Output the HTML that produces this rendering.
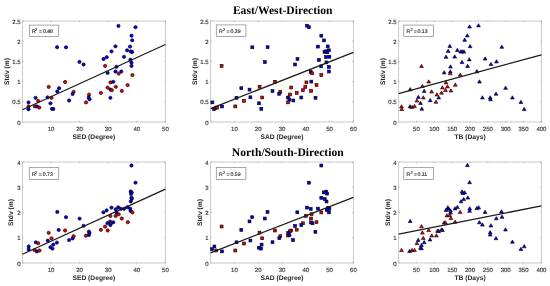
<!DOCTYPE html>
<html><head><meta charset="utf-8"><title>Figure</title>
<style>
html,body{margin:0;padding:0;background:#fff;}
body{width:550px;height:286px;overflow:hidden;}
svg{display:block;}
text{text-rendering:geometricPrecision;}
.tk{font-family:"Liberation Sans",Arial,sans-serif;font-size:6px;fill:#404040;stroke:#404040;stroke-width:0.18px;}
.lb{font-family:"Liberation Sans",Arial,sans-serif;font-size:6.7px;font-weight:bold;fill:#262626;}
.r2{font-family:"Liberation Sans",Arial,sans-serif;font-size:5.2px;fill:#303030;stroke:#303030;stroke-width:0.15px;}
.sup{font-size:4px;}
.tt{font-family:"Liberation Serif","Times New Roman",serif;font-size:11.6px;font-weight:bold;fill:#000;}
</style></head>
<body>
<svg width="550" height="286" viewBox="0 0 550 286">
<rect width="550" height="286" fill="#fff"/>
<text class="tt" x="282.7" y="14.0" text-anchor="middle">East/West-Direction</text>
<text class="tt" x="287.7" y="156.1" text-anchor="middle">North/South-Direction</text>
<rect x="22.40" y="21.00" width="143.00" height="101.00" fill="none" stroke="#c4c4c4" stroke-width="0.9"/>
<path d="M51.00 122.00v-1.2M51.00 21.00v1.2M79.60 122.00v-1.2M79.60 21.00v1.2M108.20 122.00v-1.2M108.20 21.00v1.2M136.80 122.00v-1.2M136.80 21.00v1.2M165.40 122.00v-1.2M165.40 21.00v1.2M22.40 122.00h1.2M165.40 122.00h-1.2M22.40 101.80h1.2M165.40 101.80h-1.2M22.40 81.60h1.2M165.40 81.60h-1.2M22.40 61.40h1.2M165.40 61.40h-1.2M22.40 41.20h1.2M165.40 41.20h-1.2M22.40 21.00h1.2M165.40 21.00h-1.2" stroke="#9a9a9a" stroke-width="0.6" fill="none"/>
<text class="tk" x="51.00" y="130.60" text-anchor="middle">10</text>
<text class="tk" x="79.60" y="130.60" text-anchor="middle">20</text>
<text class="tk" x="108.20" y="130.60" text-anchor="middle">30</text>
<text class="tk" x="136.80" y="130.60" text-anchor="middle">40</text>
<text class="tk" x="165.40" y="130.60" text-anchor="middle">50</text>
<text class="tk" x="20.50" y="124.60" text-anchor="end">0</text>
<text class="tk" x="20.50" y="104.40" text-anchor="end">0.5</text>
<text class="tk" x="20.50" y="84.20" text-anchor="end">1</text>
<text class="tk" x="20.50" y="64.00" text-anchor="end">1.5</text>
<text class="tk" x="20.50" y="43.80" text-anchor="end">2</text>
<text class="tk" x="20.50" y="23.60" text-anchor="end">2.5</text>
<text class="lb" x="93.90" y="138.80" text-anchor="middle">SED (Degree)</text>
<text class="lb" transform="translate(9.10 71.50) rotate(-90)" x="0" y="0" text-anchor="middle">Stdv (m)</text>
<rect x="29.40" y="25.10" width="29.20" height="11.40" fill="#fff" stroke="#8c8c8c" stroke-width="0.75"/>
<text class="r2" x="32.00" y="33.00">R</text><text class="r2 sup" x="35.00" y="30.90">2</text><text class="r2" x="38.90" y="33.00">=</text><text class="r2" x="42.90" y="33.00">0.48</text>
<g stroke="#000" stroke-width="0.6"><circle cx="118.5" cy="25.9" r="1.65" fill="#0000e6"/><circle cx="135.5" cy="27.2" r="1.65" fill="#0000e6"/><circle cx="131.5" cy="35.7" r="1.65" fill="#0000e6"/><circle cx="132.2" cy="40.3" r="1.65" fill="#0000e6"/><circle cx="115.5" cy="46.3" r="1.65" fill="#0000e6"/><circle cx="130.0" cy="46.6" r="1.65" fill="#0000e6"/><circle cx="111.5" cy="51.4" r="1.65" fill="#0000e6"/><circle cx="127.1" cy="50.3" r="1.65" fill="#0000e6"/><circle cx="130.7" cy="51.5" r="1.65" fill="#0000e6"/><circle cx="132.2" cy="52.0" r="1.65" fill="#0000e6"/><circle cx="124.0" cy="56.8" r="1.65" fill="#0000e6"/><circle cx="103.5" cy="59.0" r="1.65" fill="#0000e6"/><circle cx="106.7" cy="57.2" r="1.65" fill="#0000e6"/><circle cx="130.4" cy="59.7" r="1.65" fill="#0000e6"/><circle cx="131.5" cy="62.6" r="1.65" fill="#0000e6"/><circle cx="131.5" cy="65.9" r="1.65" fill="#0000e6"/><circle cx="79.5" cy="61.9" r="1.65" fill="#0000e6"/><circle cx="83.6" cy="64.5" r="1.65" fill="#0000e6"/><circle cx="105.1" cy="65.9" r="1.65" fill="#e60000"/><circle cx="116.5" cy="66.8" r="1.65" fill="#0000e6"/><circle cx="57.1" cy="47.2" r="1.65" fill="#0000e6"/><circle cx="66.0" cy="47.3" r="1.65" fill="#0000e6"/><circle cx="107.6" cy="72.9" r="1.65" fill="#0000e6"/><circle cx="115.5" cy="71.5" r="1.65" fill="#0000e6"/><circle cx="118.7" cy="73.6" r="1.65" fill="#e60000"/><circle cx="121.3" cy="71.5" r="1.65" fill="#0000e6"/><circle cx="132.4" cy="75.1" r="1.65" fill="#e60000"/><circle cx="110.5" cy="82.4" r="1.65" fill="#e60000"/><circle cx="113.3" cy="81.8" r="1.65" fill="#0000e6"/><circle cx="115.8" cy="86.8" r="1.65" fill="#e60000"/><circle cx="127.6" cy="85.1" r="1.65" fill="#e60000"/><circle cx="107.6" cy="87.6" r="1.65" fill="#e60000"/><circle cx="110.4" cy="89.6" r="1.65" fill="#0000e6"/><circle cx="111.8" cy="90.2" r="1.65" fill="#e60000"/><circle cx="121.8" cy="90.9" r="1.65" fill="#e60000"/><circle cx="100.9" cy="92.9" r="1.65" fill="#e60000"/><circle cx="110.4" cy="97.8" r="1.65" fill="#0000e6"/><circle cx="89.0" cy="94.6" r="1.65" fill="#e60000"/><circle cx="88.7" cy="97.5" r="1.65" fill="#0000e6"/><circle cx="89.5" cy="99.3" r="1.65" fill="#0000e6"/><circle cx="86.0" cy="102.4" r="1.65" fill="#e60000"/><circle cx="73.6" cy="91.8" r="1.65" fill="#e60000"/><circle cx="72.6" cy="94.0" r="1.65" fill="#0000e6"/><circle cx="69.1" cy="100.5" r="1.65" fill="#0000e6"/><circle cx="65.1" cy="82.0" r="1.65" fill="#e60000"/><circle cx="48.7" cy="86.9" r="1.65" fill="#e60000"/><circle cx="59.1" cy="88.2" r="1.65" fill="#0000e6"/><circle cx="57.3" cy="91.5" r="1.65" fill="#0000e6"/><circle cx="47.6" cy="97.3" r="1.65" fill="#0000e6"/><circle cx="51.5" cy="97.8" r="1.65" fill="#e60000"/><circle cx="50.5" cy="103.3" r="1.65" fill="#0000e6"/><circle cx="52.0" cy="108.9" r="1.65" fill="#0000e6"/><circle cx="53.3" cy="108.9" r="1.65" fill="#0000e6"/><circle cx="28.5" cy="102.4" r="1.65" fill="#0000e6"/><circle cx="28.5" cy="106.4" r="1.65" fill="#e60000"/><circle cx="28.5" cy="109.3" r="1.65" fill="#0000e6"/><circle cx="35.6" cy="97.8" r="1.65" fill="#0000e6"/><circle cx="38.2" cy="100.9" r="1.65" fill="#e60000"/><circle cx="34.9" cy="106.4" r="1.65" fill="#e60000"/><circle cx="36.9" cy="106.4" r="1.65" fill="#0000e6"/><circle cx="39.3" cy="107.5" r="1.65" fill="#e60000"/></g>
<line x1="22.40" y1="109.80" x2="165.40" y2="44.50" stroke="#1a1a1a" stroke-width="1.25"/>
<rect x="210.60" y="21.00" width="142.80" height="101.00" fill="none" stroke="#c4c4c4" stroke-width="0.9"/>
<path d="M234.40 122.00v-1.2M234.40 21.00v1.2M258.20 122.00v-1.2M258.20 21.00v1.2M282.00 122.00v-1.2M282.00 21.00v1.2M305.80 122.00v-1.2M305.80 21.00v1.2M329.60 122.00v-1.2M329.60 21.00v1.2M353.40 122.00v-1.2M353.40 21.00v1.2M210.60 122.00h1.2M353.40 122.00h-1.2M210.60 101.80h1.2M353.40 101.80h-1.2M210.60 81.60h1.2M353.40 81.60h-1.2M210.60 61.40h1.2M353.40 61.40h-1.2M210.60 41.20h1.2M353.40 41.20h-1.2M210.60 21.00h1.2M353.40 21.00h-1.2" stroke="#9a9a9a" stroke-width="0.6" fill="none"/>
<text class="tk" x="234.40" y="130.60" text-anchor="middle">10</text>
<text class="tk" x="258.20" y="130.60" text-anchor="middle">20</text>
<text class="tk" x="282.00" y="130.60" text-anchor="middle">30</text>
<text class="tk" x="305.80" y="130.60" text-anchor="middle">40</text>
<text class="tk" x="329.60" y="130.60" text-anchor="middle">50</text>
<text class="tk" x="353.40" y="130.60" text-anchor="middle">60</text>
<text class="tk" x="208.70" y="124.60" text-anchor="end">0</text>
<text class="tk" x="208.70" y="104.40" text-anchor="end">0.5</text>
<text class="tk" x="208.70" y="84.20" text-anchor="end">1</text>
<text class="tk" x="208.70" y="64.00" text-anchor="end">1.5</text>
<text class="tk" x="208.70" y="43.80" text-anchor="end">2</text>
<text class="tk" x="208.70" y="23.60" text-anchor="end">2.5</text>
<text class="lb" x="282.00" y="138.80" text-anchor="middle">SAD (Degree)</text>
<text class="lb" transform="translate(197.30 71.50) rotate(-90)" x="0" y="0" text-anchor="middle">Stdv (m)</text>
<rect x="216.30" y="24.90" width="29.60" height="11.60" fill="#fff" stroke="#8c8c8c" stroke-width="0.75"/>
<text class="r2" x="218.90" y="32.90">R</text><text class="r2 sup" x="222.90" y="30.80">2</text><text class="r2" x="226.60" y="32.90">=</text><text class="r2" x="230.50" y="32.90">0.39</text>
<g stroke="#000" stroke-width="0.6"><rect x="305.65" y="24.25" width="2.9" height="2.9" fill="#0000e6"/><rect x="307.45" y="25.75" width="2.9" height="2.9" fill="#0000e6"/><rect x="319.85" y="34.25" width="2.9" height="2.9" fill="#0000e6"/><rect x="322.55" y="38.95" width="2.9" height="2.9" fill="#0000e6"/><rect x="250.85" y="45.85" width="2.9" height="2.9" fill="#0000e6"/><rect x="266.15" y="45.75" width="2.9" height="2.9" fill="#0000e6"/><rect x="316.45" y="45.15" width="2.9" height="2.9" fill="#0000e6"/><rect x="326.25" y="44.95" width="2.9" height="2.9" fill="#0000e6"/><rect x="323.05" y="50.35" width="2.9" height="2.9" fill="#0000e6"/><rect x="324.55" y="49.85" width="2.9" height="2.9" fill="#0000e6"/><rect x="325.85" y="50.85" width="2.9" height="2.9" fill="#0000e6"/><rect x="327.45" y="48.85" width="2.9" height="2.9" fill="#0000e6"/><rect x="263.35" y="60.65" width="2.9" height="2.9" fill="#0000e6"/><rect x="296.05" y="57.55" width="2.9" height="2.9" fill="#0000e6"/><rect x="293.55" y="63.05" width="2.9" height="2.9" fill="#0000e6"/><rect x="317.55" y="58.55" width="2.9" height="2.9" fill="#0000e6"/><rect x="324.65" y="55.65" width="2.9" height="2.9" fill="#0000e6"/><rect x="327.95" y="55.35" width="2.9" height="2.9" fill="#0000e6"/><rect x="324.95" y="60.95" width="2.9" height="2.9" fill="#0000e6"/><rect x="319.75" y="64.85" width="2.9" height="2.9" fill="#0000e6"/><rect x="327.45" y="65.45" width="2.9" height="2.9" fill="#0000e6"/><rect x="220.15" y="64.45" width="2.9" height="2.9" fill="#e60000"/><rect x="327.45" y="70.05" width="2.9" height="2.9" fill="#0000e6"/><rect x="309.25" y="70.35" width="2.9" height="2.9" fill="#0000e6"/><rect x="310.75" y="71.85" width="2.9" height="2.9" fill="#e60000"/><rect x="319.85" y="73.65" width="2.9" height="2.9" fill="#e60000"/><rect x="304.95" y="80.95" width="2.9" height="2.9" fill="#e60000"/><rect x="309.85" y="80.15" width="2.9" height="2.9" fill="#0000e6"/><rect x="315.05" y="83.65" width="2.9" height="2.9" fill="#e60000"/><rect x="303.85" y="85.45" width="2.9" height="2.9" fill="#e60000"/><rect x="301.45" y="88.75" width="2.9" height="2.9" fill="#e60000"/><rect x="309.65" y="89.45" width="2.9" height="2.9" fill="#e60000"/><rect x="299.85" y="96.05" width="2.9" height="2.9" fill="#0000e6"/><rect x="314.05" y="96.35" width="2.9" height="2.9" fill="#0000e6"/><rect x="295.25" y="91.45" width="2.9" height="2.9" fill="#e60000"/><rect x="289.75" y="86.05" width="2.9" height="2.9" fill="#e60000"/><rect x="288.55" y="93.05" width="2.9" height="2.9" fill="#e60000"/><rect x="286.55" y="96.05" width="2.9" height="2.9" fill="#0000e6"/><rect x="287.95" y="98.15" width="2.9" height="2.9" fill="#0000e6"/><rect x="286.65" y="100.95" width="2.9" height="2.9" fill="#e60000"/><rect x="291.85" y="99.05" width="2.9" height="2.9" fill="#0000e6"/><rect x="273.45" y="80.35" width="2.9" height="2.9" fill="#e60000"/><rect x="271.05" y="89.65" width="2.9" height="2.9" fill="#0000e6"/><rect x="278.85" y="90.35" width="2.9" height="2.9" fill="#e60000"/><rect x="277.75" y="92.35" width="2.9" height="2.9" fill="#0000e6"/><rect x="258.15" y="85.25" width="2.9" height="2.9" fill="#e60000"/><rect x="260.75" y="96.05" width="2.9" height="2.9" fill="#e60000"/><rect x="257.55" y="101.85" width="2.9" height="2.9" fill="#0000e6"/><rect x="259.85" y="107.45" width="2.9" height="2.9" fill="#0000e6"/><rect x="239.85" y="86.75" width="2.9" height="2.9" fill="#0000e6"/><rect x="248.05" y="88.15" width="2.9" height="2.9" fill="#0000e6"/><rect x="235.05" y="96.35" width="2.9" height="2.9" fill="#0000e6"/><rect x="242.55" y="99.45" width="2.9" height="2.9" fill="#e60000"/><rect x="233.85" y="104.95" width="2.9" height="2.9" fill="#e60000"/><rect x="248.95" y="95.85" width="2.9" height="2.9" fill="#0000e6"/><rect x="210.95" y="100.95" width="2.9" height="2.9" fill="#0000e6"/><rect x="212.55" y="107.65" width="2.9" height="2.9" fill="#0000e6"/><rect x="214.15" y="106.75" width="2.9" height="2.9" fill="#e60000"/><rect x="215.65" y="106.05" width="2.9" height="2.9" fill="#e60000"/><rect x="220.55" y="105.05" width="2.9" height="2.9" fill="#0000e6"/></g>
<line x1="210.60" y1="108.60" x2="353.40" y2="52.30" stroke="#1a1a1a" stroke-width="1.25"/>
<rect x="398.60" y="21.00" width="142.80" height="101.00" fill="none" stroke="#c4c4c4" stroke-width="0.9"/>
<path d="M416.45 122.00v-1.2M416.45 21.00v1.2M434.30 122.00v-1.2M434.30 21.00v1.2M452.15 122.00v-1.2M452.15 21.00v1.2M470.00 122.00v-1.2M470.00 21.00v1.2M487.85 122.00v-1.2M487.85 21.00v1.2M505.70 122.00v-1.2M505.70 21.00v1.2M523.55 122.00v-1.2M523.55 21.00v1.2M541.40 122.00v-1.2M541.40 21.00v1.2M398.60 122.00h1.2M541.40 122.00h-1.2M398.60 101.80h1.2M541.40 101.80h-1.2M398.60 81.60h1.2M541.40 81.60h-1.2M398.60 61.40h1.2M541.40 61.40h-1.2M398.60 41.20h1.2M541.40 41.20h-1.2M398.60 21.00h1.2M541.40 21.00h-1.2" stroke="#9a9a9a" stroke-width="0.6" fill="none"/>
<text class="tk" x="416.45" y="130.60" text-anchor="middle">50</text>
<text class="tk" x="434.30" y="130.60" text-anchor="middle">100</text>
<text class="tk" x="452.15" y="130.60" text-anchor="middle">150</text>
<text class="tk" x="470.00" y="130.60" text-anchor="middle">200</text>
<text class="tk" x="487.85" y="130.60" text-anchor="middle">250</text>
<text class="tk" x="505.70" y="130.60" text-anchor="middle">300</text>
<text class="tk" x="523.55" y="130.60" text-anchor="middle">350</text>
<text class="tk" x="541.40" y="130.60" text-anchor="middle">400</text>
<text class="tk" x="396.70" y="124.60" text-anchor="end">0</text>
<text class="tk" x="396.70" y="104.40" text-anchor="end">0.5</text>
<text class="tk" x="396.70" y="84.20" text-anchor="end">1</text>
<text class="tk" x="396.70" y="64.00" text-anchor="end">1.5</text>
<text class="tk" x="396.70" y="43.80" text-anchor="end">2</text>
<text class="tk" x="396.70" y="23.60" text-anchor="end">2.5</text>
<text class="lb" x="470.00" y="138.80" text-anchor="middle">TB (Days)</text>
<text class="lb" transform="translate(385.30 71.50) rotate(-90)" x="0" y="0" text-anchor="middle">Stdv (m)</text>
<rect x="403.80" y="25.10" width="29.70" height="11.40" fill="#fff" stroke="#8c8c8c" stroke-width="0.75"/>
<text class="r2" x="406.40" y="33.00">R</text><text class="r2 sup" x="410.40" y="30.90">2</text><text class="r2" x="413.80" y="33.00">=</text><text class="r2" x="417.50" y="33.00">0.13</text>
<g stroke="#000" stroke-width="0.6"><path d="M469.60 24.85L471.50 28.10L467.70 28.10Z" fill="#0000e6"/><path d="M478.50 23.65L480.40 26.90L476.60 26.90Z" fill="#0000e6"/><path d="M467.30 33.65L469.20 36.90L465.40 36.90Z" fill="#0000e6"/><path d="M464.70 38.05L466.60 41.30L462.80 41.30Z" fill="#0000e6"/><path d="M449.80 44.25L451.70 47.50L447.90 47.50Z" fill="#0000e6"/><path d="M470.10 44.45L472.00 47.70L468.20 47.70Z" fill="#0000e6"/><path d="M501.80 45.05L503.70 48.30L499.90 48.30Z" fill="#0000e6"/><path d="M448.10 49.25L450.00 52.50L446.20 52.50Z" fill="#0000e6"/><path d="M457.30 48.25L459.20 51.50L455.40 51.50Z" fill="#0000e6"/><path d="M460.70 49.75L462.60 53.00L458.80 53.00Z" fill="#0000e6"/><path d="M462.30 49.75L464.20 53.00L460.40 53.00Z" fill="#0000e6"/><path d="M463.90 49.85L465.80 53.10L462.00 53.10Z" fill="#0000e6"/><path d="M446.00 55.05L447.90 58.30L444.10 58.30Z" fill="#0000e6"/><path d="M454.70 54.85L456.60 58.10L452.80 58.10Z" fill="#0000e6"/><path d="M469.30 57.65L471.20 60.90L467.40 60.90Z" fill="#0000e6"/><path d="M485.10 56.85L487.00 60.10L483.20 60.10Z" fill="#0000e6"/><path d="M462.00 60.35L463.90 63.60L460.10 63.60Z" fill="#0000e6"/><path d="M491.00 62.35L492.90 65.60L489.10 65.60Z" fill="#0000e6"/><path d="M496.50 59.65L498.40 62.90L494.60 62.90Z" fill="#0000e6"/><path d="M450.50 64.75L452.40 68.00L448.60 68.00Z" fill="#0000e6"/><path d="M467.60 64.25L469.50 67.50L465.70 67.50Z" fill="#0000e6"/><path d="M421.50 64.25L423.40 67.50L419.60 67.50Z" fill="#e60000"/><path d="M444.20 70.65L446.10 73.90L442.30 73.90Z" fill="#0000e6"/><path d="M450.30 69.75L452.20 73.00L448.40 73.00Z" fill="#0000e6"/><path d="M450.20 71.55L452.10 74.80L448.30 74.80Z" fill="#e60000"/><path d="M460.20 72.95L462.10 76.20L458.30 76.20Z" fill="#e60000"/><path d="M476.90 69.55L478.80 72.80L475.00 72.80Z" fill="#0000e6"/><path d="M428.70 79.75L430.60 83.00L426.80 83.00Z" fill="#e60000"/><path d="M446.00 80.65L447.90 83.90L444.10 83.90Z" fill="#e60000"/><path d="M479.50 79.75L481.40 83.00L477.60 83.00Z" fill="#0000e6"/><path d="M455.30 82.95L457.20 86.20L453.40 86.20Z" fill="#e60000"/><path d="M422.40 84.25L424.30 87.50L420.50 87.50Z" fill="#e60000"/><path d="M442.40 85.75L444.30 89.00L440.50 89.00Z" fill="#e60000"/><path d="M447.50 84.65L449.40 87.90L445.60 87.90Z" fill="#e60000"/><path d="M410.20 87.55L412.10 90.80L408.30 90.80Z" fill="#0000e6"/><path d="M424.20 89.15L426.10 92.40L422.30 92.40Z" fill="#0000e6"/><path d="M431.60 89.75L433.50 93.00L429.70 93.00Z" fill="#e60000"/><path d="M445.50 88.25L447.40 91.50L443.60 91.50Z" fill="#e60000"/><path d="M450.90 88.75L452.80 92.00L449.00 92.00Z" fill="#e60000"/><path d="M441.50 90.95L443.40 94.20L439.60 94.20Z" fill="#e60000"/><path d="M436.90 92.75L438.80 96.00L435.00 96.00Z" fill="#e60000"/><path d="M438.70 95.75L440.60 99.00L436.80 99.00Z" fill="#0000e6"/><path d="M418.40 95.15L420.30 98.40L416.50 98.40Z" fill="#0000e6"/><path d="M423.30 95.75L425.20 99.00L421.40 99.00Z" fill="#e60000"/><path d="M416.90 98.75L418.80 102.00L415.00 102.00Z" fill="#e60000"/><path d="M430.20 98.45L432.10 101.70L428.30 101.70Z" fill="#0000e6"/><path d="M436.00 100.05L437.90 103.30L434.10 103.30Z" fill="#e60000"/><path d="M420.50 101.15L422.40 104.40L418.60 104.40Z" fill="#0000e6"/><path d="M401.50 104.65L403.40 107.90L399.60 107.90Z" fill="#e60000"/><path d="M401.80 107.35L403.70 110.60L399.90 110.60Z" fill="#e60000"/><path d="M410.00 104.65L411.90 107.90L408.10 107.90Z" fill="#0000e6"/><path d="M412.00 105.35L413.90 108.60L410.10 108.60Z" fill="#e60000"/><path d="M414.50 104.25L416.40 107.50L412.60 107.50Z" fill="#e60000"/><path d="M421.80 106.95L423.70 110.20L419.90 110.20Z" fill="#0000e6"/><path d="M482.40 95.75L484.30 99.00L480.50 99.00Z" fill="#0000e6"/><path d="M490.20 95.75L492.10 99.00L488.30 99.00Z" fill="#0000e6"/><path d="M490.50 97.55L492.40 100.80L488.60 100.80Z" fill="#0000e6"/><path d="M496.00 91.95L497.90 95.20L494.10 95.20Z" fill="#0000e6"/><path d="M505.60 86.05L507.50 89.30L503.70 89.30Z" fill="#0000e6"/><path d="M512.40 95.75L514.30 99.00L510.50 99.00Z" fill="#0000e6"/><path d="M520.90 100.25L522.80 103.50L519.00 103.50Z" fill="#0000e6"/><path d="M524.20 107.35L526.10 110.60L522.30 110.60Z" fill="#0000e6"/></g>
<line x1="398.60" y1="93.60" x2="541.40" y2="54.90" stroke="#1a1a1a" stroke-width="1.25"/>
<rect x="22.40" y="162.00" width="143.00" height="101.00" fill="none" stroke="#c4c4c4" stroke-width="0.9"/>
<path d="M51.00 263.00v-1.2M51.00 162.00v1.2M79.60 263.00v-1.2M79.60 162.00v1.2M108.20 263.00v-1.2M108.20 162.00v1.2M136.80 263.00v-1.2M136.80 162.00v1.2M165.40 263.00v-1.2M165.40 162.00v1.2M22.40 263.00h1.2M165.40 263.00h-1.2M22.40 237.75h1.2M165.40 237.75h-1.2M22.40 212.50h1.2M165.40 212.50h-1.2M22.40 187.25h1.2M165.40 187.25h-1.2M22.40 162.00h1.2M165.40 162.00h-1.2" stroke="#9a9a9a" stroke-width="0.6" fill="none"/>
<text class="tk" x="51.00" y="271.60" text-anchor="middle">10</text>
<text class="tk" x="79.60" y="271.60" text-anchor="middle">20</text>
<text class="tk" x="108.20" y="271.60" text-anchor="middle">30</text>
<text class="tk" x="136.80" y="271.60" text-anchor="middle">40</text>
<text class="tk" x="165.40" y="271.60" text-anchor="middle">50</text>
<text class="tk" x="20.50" y="265.60" text-anchor="end">0</text>
<text class="tk" x="20.50" y="240.35" text-anchor="end">1</text>
<text class="tk" x="20.50" y="215.10" text-anchor="end">2</text>
<text class="tk" x="20.50" y="189.85" text-anchor="end">3</text>
<text class="tk" x="20.50" y="164.60" text-anchor="end">4</text>
<text class="lb" x="93.90" y="279.80" text-anchor="middle">SED (Degree)</text>
<text class="lb" transform="translate(13.30 212.50) rotate(-90)" x="0" y="0" text-anchor="middle">Stdv (m)</text>
<rect x="29.30" y="167.40" width="29.40" height="12.20" fill="#fff" stroke="#8c8c8c" stroke-width="0.75"/>
<text class="r2" x="31.90" y="176.10">R</text><text class="r2 sup" x="34.90" y="174.00">2</text><text class="r2" x="38.80" y="176.10">=</text><text class="r2" x="42.80" y="176.10">0.73</text>
<g stroke="#000" stroke-width="0.6"><circle cx="131.5" cy="165.5" r="1.65" fill="#0000e6"/><circle cx="135.5" cy="182.7" r="1.65" fill="#0000e6"/><circle cx="130.7" cy="191.5" r="1.65" fill="#0000e6"/><circle cx="131.8" cy="192.6" r="1.65" fill="#0000e6"/><circle cx="131.0" cy="193.9" r="1.65" fill="#0000e6"/><circle cx="131.5" cy="197.6" r="1.65" fill="#0000e6"/><circle cx="131.8" cy="198.8" r="1.65" fill="#0000e6"/><circle cx="130.8" cy="201.4" r="1.65" fill="#0000e6"/><circle cx="118.2" cy="207.3" r="1.65" fill="#0000e6"/><circle cx="120.9" cy="208.8" r="1.65" fill="#0000e6"/><circle cx="124.1" cy="208.8" r="1.65" fill="#0000e6"/><circle cx="127.3" cy="207.2" r="1.65" fill="#0000e6"/><circle cx="130.1" cy="208.6" r="1.65" fill="#0000e6"/><circle cx="130.6" cy="210.9" r="1.65" fill="#0000e6"/><circle cx="132.4" cy="212.4" r="1.65" fill="#e60000"/><circle cx="115.7" cy="209.3" r="1.65" fill="#0000e6"/><circle cx="116.5" cy="212.5" r="1.65" fill="#0000e6"/><circle cx="118.7" cy="214.3" r="1.65" fill="#e60000"/><circle cx="111.5" cy="207.6" r="1.65" fill="#0000e6"/><circle cx="106.6" cy="210.4" r="1.65" fill="#0000e6"/><circle cx="103.4" cy="212.3" r="1.65" fill="#0000e6"/><circle cx="115.6" cy="215.9" r="1.65" fill="#e60000"/><circle cx="110.4" cy="215.9" r="1.65" fill="#e60000"/><circle cx="121.8" cy="218.5" r="1.65" fill="#e60000"/><circle cx="127.8" cy="222.2" r="1.65" fill="#e60000"/><circle cx="107.5" cy="223.2" r="1.65" fill="#0000e6"/><circle cx="110.1" cy="221.6" r="1.65" fill="#0000e6"/><circle cx="111.2" cy="222.9" r="1.65" fill="#e60000"/><circle cx="113.3" cy="222.3" r="1.65" fill="#0000e6"/><circle cx="110.4" cy="225.0" r="1.65" fill="#0000e6"/><circle cx="105.1" cy="226.6" r="1.65" fill="#e60000"/><circle cx="100.9" cy="229.8" r="1.65" fill="#e60000"/><circle cx="107.7" cy="230.5" r="1.65" fill="#e60000"/><circle cx="57.3" cy="211.9" r="1.65" fill="#0000e6"/><circle cx="66.0" cy="217.2" r="1.65" fill="#0000e6"/><circle cx="79.6" cy="218.6" r="1.65" fill="#0000e6"/><circle cx="83.6" cy="225.8" r="1.65" fill="#0000e6"/><circle cx="58.7" cy="229.9" r="1.65" fill="#0000e6"/><circle cx="65.1" cy="230.5" r="1.65" fill="#e60000"/><circle cx="48.7" cy="232.8" r="1.65" fill="#e60000"/><circle cx="51.5" cy="238.3" r="1.65" fill="#e60000"/><circle cx="47.8" cy="240.6" r="1.65" fill="#0000e6"/><circle cx="56.9" cy="242.6" r="1.65" fill="#0000e6"/><circle cx="53.3" cy="244.6" r="1.65" fill="#0000e6"/><circle cx="50.5" cy="247.2" r="1.65" fill="#0000e6"/><circle cx="52.4" cy="248.6" r="1.65" fill="#0000e6"/><circle cx="69.1" cy="240.1" r="1.65" fill="#0000e6"/><circle cx="72.6" cy="238.4" r="1.65" fill="#0000e6"/><circle cx="73.6" cy="236.2" r="1.65" fill="#e60000"/><circle cx="85.9" cy="235.7" r="1.65" fill="#e60000"/><circle cx="88.9" cy="231.6" r="1.65" fill="#0000e6"/><circle cx="89.5" cy="233.0" r="1.65" fill="#0000e6"/><circle cx="88.9" cy="235.0" r="1.65" fill="#0000e6"/><circle cx="28.7" cy="246.5" r="1.65" fill="#0000e6"/><circle cx="28.7" cy="249.5" r="1.65" fill="#0000e6"/><circle cx="34.5" cy="250.1" r="1.65" fill="#e60000"/><circle cx="36.9" cy="251.4" r="1.65" fill="#0000e6"/><circle cx="39.5" cy="250.5" r="1.65" fill="#e60000"/><circle cx="35.8" cy="242.3" r="1.65" fill="#0000e6"/><circle cx="38.2" cy="243.2" r="1.65" fill="#e60000"/></g>
<line x1="22.40" y1="254.30" x2="165.40" y2="189.10" stroke="#1a1a1a" stroke-width="1.25"/>
<rect x="210.60" y="162.00" width="142.80" height="101.00" fill="none" stroke="#c4c4c4" stroke-width="0.9"/>
<path d="M234.40 263.00v-1.2M234.40 162.00v1.2M258.20 263.00v-1.2M258.20 162.00v1.2M282.00 263.00v-1.2M282.00 162.00v1.2M305.80 263.00v-1.2M305.80 162.00v1.2M329.60 263.00v-1.2M329.60 162.00v1.2M353.40 263.00v-1.2M353.40 162.00v1.2M210.60 263.00h1.2M353.40 263.00h-1.2M210.60 237.75h1.2M353.40 237.75h-1.2M210.60 212.50h1.2M353.40 212.50h-1.2M210.60 187.25h1.2M353.40 187.25h-1.2M210.60 162.00h1.2M353.40 162.00h-1.2" stroke="#9a9a9a" stroke-width="0.6" fill="none"/>
<text class="tk" x="234.40" y="271.60" text-anchor="middle">10</text>
<text class="tk" x="258.20" y="271.60" text-anchor="middle">20</text>
<text class="tk" x="282.00" y="271.60" text-anchor="middle">30</text>
<text class="tk" x="305.80" y="271.60" text-anchor="middle">40</text>
<text class="tk" x="329.60" y="271.60" text-anchor="middle">50</text>
<text class="tk" x="353.40" y="271.60" text-anchor="middle">60</text>
<text class="tk" x="208.70" y="265.60" text-anchor="end">0</text>
<text class="tk" x="208.70" y="240.35" text-anchor="end">1</text>
<text class="tk" x="208.70" y="215.10" text-anchor="end">2</text>
<text class="tk" x="208.70" y="189.85" text-anchor="end">3</text>
<text class="tk" x="208.70" y="164.60" text-anchor="end">4</text>
<text class="lb" x="282.00" y="279.80" text-anchor="middle">SAD (Degree)</text>
<text class="lb" transform="translate(201.50 212.50) rotate(-90)" x="0" y="0" text-anchor="middle">Stdv (m)</text>
<rect x="216.30" y="167.40" width="29.60" height="12.20" fill="#fff" stroke="#8c8c8c" stroke-width="0.75"/>
<text class="r2" x="218.90" y="176.10">R</text><text class="r2 sup" x="222.90" y="174.00">2</text><text class="r2" x="226.60" y="176.10">=</text><text class="r2" x="230.50" y="176.10">0.59</text>
<g stroke="#000" stroke-width="0.6"><rect x="319.85" y="164.05" width="2.9" height="2.9" fill="#0000e6"/><rect x="307.45" y="181.25" width="2.9" height="2.9" fill="#0000e6"/><rect x="322.35" y="190.95" width="2.9" height="2.9" fill="#0000e6"/><rect x="324.75" y="190.15" width="2.9" height="2.9" fill="#0000e6"/><rect x="325.65" y="192.15" width="2.9" height="2.9" fill="#0000e6"/><rect x="319.85" y="196.35" width="2.9" height="2.9" fill="#0000e6"/><rect x="323.25" y="197.65" width="2.9" height="2.9" fill="#0000e6"/><rect x="325.05" y="200.05" width="2.9" height="2.9" fill="#0000e6"/><rect x="305.65" y="206.15" width="2.9" height="2.9" fill="#0000e6"/><rect x="309.25" y="207.45" width="2.9" height="2.9" fill="#0000e6"/><rect x="316.55" y="207.15" width="2.9" height="2.9" fill="#0000e6"/><rect x="326.75" y="206.25" width="2.9" height="2.9" fill="#0000e6"/><rect x="327.95" y="207.35" width="2.9" height="2.9" fill="#0000e6"/><rect x="325.25" y="208.55" width="2.9" height="2.9" fill="#0000e6"/><rect x="327.45" y="210.95" width="2.9" height="2.9" fill="#0000e6"/><rect x="319.85" y="210.95" width="2.9" height="2.9" fill="#e60000"/><rect x="295.85" y="210.85" width="2.9" height="2.9" fill="#0000e6"/><rect x="266.05" y="210.55" width="2.9" height="2.9" fill="#0000e6"/><rect x="263.35" y="217.05" width="2.9" height="2.9" fill="#0000e6"/><rect x="250.75" y="215.75" width="2.9" height="2.9" fill="#0000e6"/><rect x="248.05" y="219.95" width="2.9" height="2.9" fill="#0000e6"/><rect x="304.55" y="214.45" width="2.9" height="2.9" fill="#e60000"/><rect x="310.15" y="212.75" width="2.9" height="2.9" fill="#e60000"/><rect x="309.65" y="217.05" width="2.9" height="2.9" fill="#e60000"/><rect x="309.65" y="220.95" width="2.9" height="2.9" fill="#0000e6"/><rect x="311.05" y="221.85" width="2.9" height="2.9" fill="#0000e6"/><rect x="315.05" y="220.75" width="2.9" height="2.9" fill="#e60000"/><rect x="313.95" y="230.35" width="2.9" height="2.9" fill="#0000e6"/><rect x="301.45" y="221.85" width="2.9" height="2.9" fill="#e60000"/><rect x="299.85" y="223.65" width="2.9" height="2.9" fill="#0000e6"/><rect x="293.65" y="224.45" width="2.9" height="2.9" fill="#0000e6"/><rect x="295.25" y="228.25" width="2.9" height="2.9" fill="#e60000"/><rect x="289.75" y="229.05" width="2.9" height="2.9" fill="#e60000"/><rect x="288.35" y="229.85" width="2.9" height="2.9" fill="#e60000"/><rect x="286.75" y="231.45" width="2.9" height="2.9" fill="#0000e6"/><rect x="286.55" y="234.05" width="2.9" height="2.9" fill="#e60000"/><rect x="288.05" y="233.75" width="2.9" height="2.9" fill="#0000e6"/><rect x="291.65" y="238.65" width="2.9" height="2.9" fill="#0000e6"/><rect x="278.85" y="234.75" width="2.9" height="2.9" fill="#e60000"/><rect x="277.85" y="236.75" width="2.9" height="2.9" fill="#0000e6"/><rect x="273.45" y="229.05" width="2.9" height="2.9" fill="#e60000"/><rect x="271.05" y="240.75" width="2.9" height="2.9" fill="#0000e6"/><rect x="258.05" y="231.15" width="2.9" height="2.9" fill="#e60000"/><rect x="260.75" y="236.85" width="2.9" height="2.9" fill="#e60000"/><rect x="260.15" y="243.15" width="2.9" height="2.9" fill="#0000e6"/><rect x="257.45" y="246.25" width="2.9" height="2.9" fill="#0000e6"/><rect x="259.65" y="247.15" width="2.9" height="2.9" fill="#0000e6"/><rect x="248.95" y="239.05" width="2.9" height="2.9" fill="#0000e6"/><rect x="239.85" y="228.45" width="2.9" height="2.9" fill="#0000e6"/><rect x="235.05" y="240.85" width="2.9" height="2.9" fill="#0000e6"/><rect x="242.55" y="242.05" width="2.9" height="2.9" fill="#e60000"/><rect x="233.85" y="249.05" width="2.9" height="2.9" fill="#e60000"/><rect x="220.15" y="225.05" width="2.9" height="2.9" fill="#e60000"/><rect x="210.55" y="247.75" width="2.9" height="2.9" fill="#0000e6"/><rect x="212.95" y="245.05" width="2.9" height="2.9" fill="#0000e6"/><rect x="214.75" y="249.05" width="2.9" height="2.9" fill="#e60000"/><rect x="220.55" y="249.95" width="2.9" height="2.9" fill="#0000e6"/></g>
<line x1="210.60" y1="252.80" x2="353.40" y2="197.30" stroke="#1a1a1a" stroke-width="1.25"/>
<rect x="398.60" y="162.00" width="142.80" height="101.00" fill="none" stroke="#c4c4c4" stroke-width="0.9"/>
<path d="M416.45 263.00v-1.2M416.45 162.00v1.2M434.30 263.00v-1.2M434.30 162.00v1.2M452.15 263.00v-1.2M452.15 162.00v1.2M470.00 263.00v-1.2M470.00 162.00v1.2M487.85 263.00v-1.2M487.85 162.00v1.2M505.70 263.00v-1.2M505.70 162.00v1.2M523.55 263.00v-1.2M523.55 162.00v1.2M541.40 263.00v-1.2M541.40 162.00v1.2M398.60 263.00h1.2M541.40 263.00h-1.2M398.60 237.75h1.2M541.40 237.75h-1.2M398.60 212.50h1.2M541.40 212.50h-1.2M398.60 187.25h1.2M541.40 187.25h-1.2M398.60 162.00h1.2M541.40 162.00h-1.2" stroke="#9a9a9a" stroke-width="0.6" fill="none"/>
<text class="tk" x="416.45" y="271.60" text-anchor="middle">50</text>
<text class="tk" x="434.30" y="271.60" text-anchor="middle">100</text>
<text class="tk" x="452.15" y="271.60" text-anchor="middle">150</text>
<text class="tk" x="470.00" y="271.60" text-anchor="middle">200</text>
<text class="tk" x="487.85" y="271.60" text-anchor="middle">250</text>
<text class="tk" x="505.70" y="271.60" text-anchor="middle">300</text>
<text class="tk" x="523.55" y="271.60" text-anchor="middle">350</text>
<text class="tk" x="541.40" y="271.60" text-anchor="middle">400</text>
<text class="tk" x="396.70" y="265.60" text-anchor="end">0</text>
<text class="tk" x="396.70" y="240.35" text-anchor="end">1</text>
<text class="tk" x="396.70" y="215.10" text-anchor="end">2</text>
<text class="tk" x="396.70" y="189.85" text-anchor="end">3</text>
<text class="tk" x="396.70" y="164.60" text-anchor="end">4</text>
<text class="lb" x="470.00" y="279.80" text-anchor="middle">TB (Days)</text>
<text class="lb" transform="translate(389.50 212.50) rotate(-90)" x="0" y="0" text-anchor="middle">Stdv (m)</text>
<rect x="403.80" y="167.40" width="29.70" height="12.20" fill="#fff" stroke="#8c8c8c" stroke-width="0.75"/>
<text class="r2" x="406.40" y="176.10">R</text><text class="r2 sup" x="410.40" y="174.00">2</text><text class="r2" x="413.80" y="176.10">=</text><text class="r2" x="417.50" y="176.10">0.11</text>
<g stroke="#000" stroke-width="0.6"><path d="M467.40 163.35L469.30 166.60L465.50 166.60Z" fill="#0000e6"/><path d="M469.60 180.45L471.50 183.70L467.70 183.70Z" fill="#0000e6"/><path d="M462.00 189.75L463.90 193.00L460.10 193.00Z" fill="#0000e6"/><path d="M462.80 191.25L464.70 194.50L460.90 194.50Z" fill="#0000e6"/><path d="M464.70 190.65L466.60 193.90L462.80 193.90Z" fill="#0000e6"/><path d="M467.80 195.85L469.70 199.10L465.90 199.10Z" fill="#0000e6"/><path d="M463.70 197.35L465.60 200.60L461.80 200.60Z" fill="#0000e6"/><path d="M461.00 199.55L462.90 202.80L459.10 202.80Z" fill="#0000e6"/><path d="M447.80 205.65L449.70 208.90L445.90 208.90Z" fill="#0000e6"/><path d="M448.70 207.05L450.60 210.30L446.80 210.30Z" fill="#0000e6"/><path d="M446.00 208.15L447.90 211.40L444.10 211.40Z" fill="#0000e6"/><path d="M450.50 208.75L452.40 212.00L448.60 212.00Z" fill="#0000e6"/><path d="M450.50 210.85L452.40 214.10L448.60 214.10Z" fill="#0000e6"/><path d="M446.90 213.65L448.80 216.90L445.00 216.90Z" fill="#e60000"/><path d="M449.60 213.25L451.50 216.50L447.70 216.50Z" fill="#e60000"/><path d="M450.90 216.35L452.80 219.60L449.00 219.60Z" fill="#e60000"/><path d="M455.00 206.65L456.90 209.90L453.10 209.90Z" fill="#0000e6"/><path d="M457.40 205.35L459.30 208.60L455.50 208.60Z" fill="#0000e6"/><path d="M460.10 210.15L462.00 213.40L458.20 213.40Z" fill="#e60000"/><path d="M469.70 206.65L471.60 209.90L467.80 209.90Z" fill="#0000e6"/><path d="M469.60 209.05L471.50 212.30L467.70 212.30Z" fill="#0000e6"/><path d="M476.90 206.35L478.80 209.60L475.00 209.60Z" fill="#0000e6"/><path d="M478.70 205.65L480.60 208.90L476.80 208.90Z" fill="#0000e6"/><path d="M485.10 210.15L487.00 213.40L483.20 213.40Z" fill="#0000e6"/><path d="M501.50 209.75L503.40 213.00L499.60 213.00Z" fill="#0000e6"/><path d="M496.30 216.55L498.20 219.80L494.40 219.80Z" fill="#0000e6"/><path d="M502.00 215.05L503.90 218.30L500.10 218.30Z" fill="#0000e6"/><path d="M455.10 219.95L457.00 223.20L453.20 223.20Z" fill="#e60000"/><path d="M444.20 220.85L446.10 224.10L442.30 224.10Z" fill="#0000e6"/><path d="M445.50 220.85L447.40 224.10L443.60 224.10Z" fill="#e60000"/><path d="M410.20 219.25L412.10 222.50L408.30 222.50Z" fill="#0000e6"/><path d="M421.50 224.55L423.40 227.80L419.60 227.80Z" fill="#e60000"/><path d="M428.70 228.35L430.60 231.60L426.80 231.60Z" fill="#e60000"/><path d="M422.40 230.85L424.30 234.10L420.50 234.10Z" fill="#e60000"/><path d="M437.50 229.05L439.40 232.30L435.60 232.30Z" fill="#e60000"/><path d="M438.70 229.25L440.60 232.50L436.80 232.50Z" fill="#0000e6"/><path d="M441.50 227.75L443.40 231.00L439.60 231.00Z" fill="#e60000"/><path d="M442.40 228.15L444.30 231.40L440.50 231.40Z" fill="#0000e6"/><path d="M436.40 233.65L438.30 236.90L434.50 236.90Z" fill="#e60000"/><path d="M431.80 233.75L433.70 237.00L429.90 237.00Z" fill="#e60000"/><path d="M423.30 236.35L425.20 239.60L421.40 239.60Z" fill="#e60000"/><path d="M430.00 237.75L431.90 241.00L428.10 241.00Z" fill="#0000e6"/><path d="M418.20 238.15L420.10 241.40L416.30 241.40Z" fill="#0000e6"/><path d="M416.90 241.45L418.80 244.70L415.00 244.70Z" fill="#e60000"/><path d="M424.20 240.55L426.10 243.80L422.30 243.80Z" fill="#0000e6"/><path d="M421.50 243.25L423.40 246.50L419.60 246.50Z" fill="#0000e6"/><path d="M420.50 245.95L422.40 249.20L418.60 249.20Z" fill="#0000e6"/><path d="M421.50 246.55L423.40 249.80L419.60 249.80Z" fill="#0000e6"/><path d="M401.50 248.35L403.40 251.60L399.60 251.60Z" fill="#e60000"/><path d="M409.60 249.25L411.50 252.50L407.70 252.50Z" fill="#0000e6"/><path d="M412.00 248.35L413.90 251.60L410.10 251.60Z" fill="#e60000"/><path d="M414.50 248.35L416.40 251.60L412.60 251.60Z" fill="#e60000"/><path d="M479.40 220.55L481.30 223.80L477.50 223.80Z" fill="#0000e6"/><path d="M482.40 222.85L484.30 226.10L480.50 226.10Z" fill="#0000e6"/><path d="M490.90 223.75L492.80 227.00L489.00 227.00Z" fill="#0000e6"/><path d="M490.20 230.55L492.10 233.80L488.30 233.80Z" fill="#0000e6"/><path d="M490.20 232.85L492.10 236.10L488.30 236.10Z" fill="#0000e6"/><path d="M496.00 236.45L497.90 239.70L494.10 239.70Z" fill="#0000e6"/><path d="M505.50 227.75L507.40 231.00L503.60 231.00Z" fill="#0000e6"/><path d="M512.40 239.95L514.30 243.20L510.50 243.20Z" fill="#0000e6"/><path d="M520.90 247.25L522.80 250.50L519.00 250.50Z" fill="#0000e6"/><path d="M524.20 244.55L526.10 247.80L522.30 247.80Z" fill="#0000e6"/></g>
<line x1="398.60" y1="234.10" x2="541.40" y2="205.90" stroke="#1a1a1a" stroke-width="1.25"/>
</svg>
</body></html>
